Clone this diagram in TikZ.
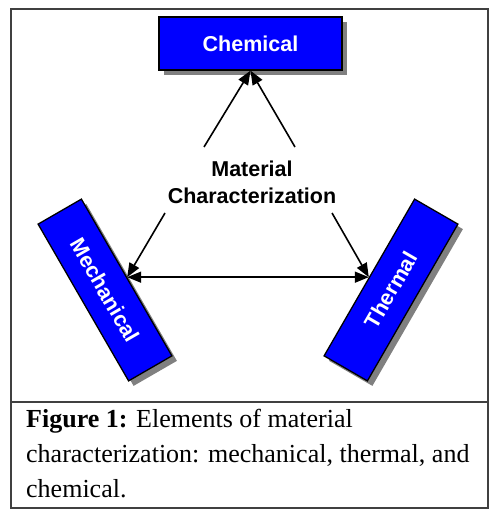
\documentclass[tikz,border=0pt]{standalone}
\usepackage{fontspec}
\setmainfont{Liberation Serif}
\setsansfont{Liberation Sans}
\usetikzlibrary{arrows.meta}
\tikzset{
	elem/.style={draw=black, line width=1.3pt, fill={rgb,255:red,0;green,0;blue,255}, text=white, font=\sffamily\bfseries\fontsize{21.5}{26}\selectfont, inner sep=0pt},
	elemshadow/.style={fill=gray, inner sep=0pt},
	arr/.style={line width=1.6pt, -{Triangle[length=14pt,width=11pt]}},
}
\begin{document}
\begin{tikzpicture}[x=1pt,y=-1pt]
\useasboundingbox (0,0) rectangle (500,521);

%Rahmen
\draw[line width=1.5pt, color=darkgray] (11,9) rectangle (488,508);
\draw[line width=1.5pt, color=darkgray] (11,402) -- (488,402);

%Schatten
\foreach \x/\y/\w/\h/\r in
{
250.5/43.5/183/53/0,
105/290/181/50/-60,
391/290/181/50/60
}
{
	\node[elemshadow, minimum width=\w pt, minimum height=\h pt, rotate=\r] at (\x+5,\y+5) {};
}

%Elemente
\node[elem, minimum width=183pt, minimum height=53pt] (chem) at (250.5,43.5) {Chemical};
\node[elem, minimum width=181pt, minimum height=50pt, rotate=-60] (mech) at (105,290) {Mechanical};
\node[elem, minimum width=181pt, minimum height=50pt, rotate=60] (therm) at (391,290) {Thermal};

\node[align=center, font=\sffamily\bfseries\fontsize{21.5}{27}\selectfont] (matchar) at (252,182) {Material\\Characterization};

%Pfeile
\coordinate (mc1) at (204,147);
\coordinate (mc2) at (295,147);
\coordinate (mc3) at (165,213);
\coordinate (mc4) at (332,213);
\draw[arr] (mc1) -- (chem.south);
\draw[arr] (mc2) -- (chem.south);
\draw[arr] (mc3) -- (mech.north);
\draw[arr] (mc4) -- (therm.north);
\draw[arr, {Triangle[length=14pt,width=11pt]}-{Triangle[length=14pt,width=11pt]}] (mech.north) -- (therm.north);

%Bildunterschrift
\node[anchor=base west, align=left, inner sep=0pt, font=\fontsize{26}{35}\selectfont] (cap) at (26,497) {\textbf{Figure 1:} Elements of material\\characterization: mechanical, thermal, and\\chemical.};

\end{tikzpicture}
\end{document}
